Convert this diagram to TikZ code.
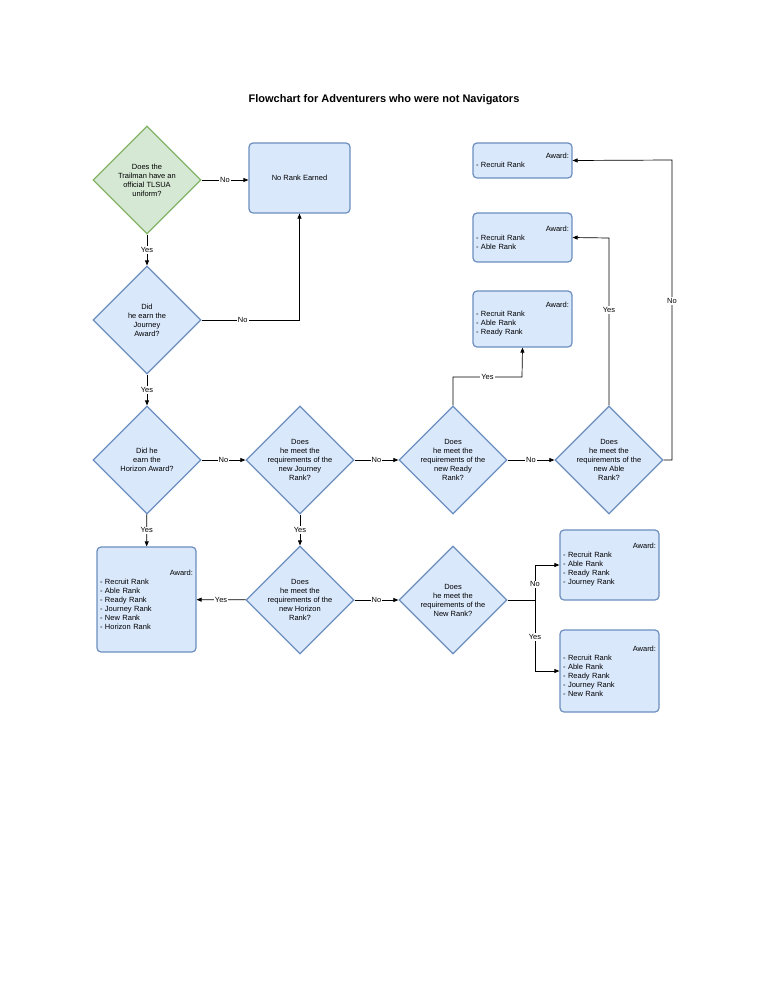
\documentclass[tikz,border=0pt]{standalone}
\usepackage{fontspec}
\setmainfont{Liberation Sans}
\usetikzlibrary{shapes.geometric,arrows.meta}
\definecolor{bfill}{HTML}{DAE8FC}\definecolor{bline}{HTML}{6C8EBF}
\definecolor{gfill}{HTML}{D5E8D4}\definecolor{gline}{HTML}{82B366}
\begin{document}
\begin{tikzpicture}[x=1pt,y=-1pt,font=\fontsize{7.5}{9}\selectfont,
 dia/.style={diamond,draw=bline,fill=bfill,line width=1.2pt,minimum width=108pt,minimum height=108pt,inner sep=0pt,align=center,aspect=1},
 gdia/.style={dia,draw=gline,fill=gfill},
 box/.style={draw=bline,fill=bfill,line width=1.2pt,rounded corners=4pt,minimum width=#1,inner sep=2pt},
 arr/.style={-{Triangle[length=5pt,width=4pt]},line width=0.7pt},
 lab/.style={fill=white,inner sep=1pt}]
\useasboundingbox (0,0) rectangle (768,994);
\node[font=\bfseries\fontsize{11}{13}\selectfont] (title) at (384,100) {Flowchart for Adventurers who were not Navigators};
\node[gdia] (d1) at (147,180) {Does the\\Trailman have an\\official TLSUA\\uniform?};
\node[box=101pt,minimum height=70pt] (nr) at (299.5,178) {No Rank Earned};
\node[dia] (d2) at (147,320) {Did\\he earn the\\Journey\\Award?};
\node[dia] (d3) at (147,460) {Did he\\earn the\\Horizon Award?};
\node[dia] (d4) at (300,460) {Does\\he meet the\\requirements of the\\new Journey\\Rank?};
\node[dia] (d5) at (453,460) {Does\\he meet the\\requirements of the\\new Ready\\Rank?};
\node[dia] (d6) at (609,460) {Does\\he meet the\\requirements of the\\new Able\\Rank?};
\node[dia] (d7) at (300,600) {Does\\he meet the\\requirements of the\\new Horizon\\Rank?};
\node[dia] (d8) at (453,600) {Does\\he meet the\\requirements of the\\New Rank?};
\node[box=99pt,minimum height=35pt,align=left,text width=93pt] (b1) at (522.5,160.5) {\hspace*{\fill}Award:\hspace*{\fill}\\- Recruit Rank};
\node[box=99pt,minimum height=49pt,align=left,text width=93pt] (b2) at (522.5,237.5) {\hspace*{\fill}Award:\hspace*{\fill}\\- Recruit Rank\\- Able Rank};
\node[box=99pt,minimum height=56pt,align=left,text width=93pt] (b3) at (522.5,319) {\hspace*{\fill}Award:\hspace*{\fill}\\- Recruit Rank\\- Able Rank\\- Ready Rank};
\node[box=99pt,minimum height=105pt,align=left,text width=93pt] (bb) at (146.5,599.5) {\hspace*{\fill}Award:\hspace*{\fill}\\- Recruit Rank\\- Able Rank\\- Ready Rank\\- Journey Rank\\- New Rank\\- Horizon Rank};
\node[box=99pt,minimum height=70pt,align=left,text width=93pt] (b4) at (609.5,565) {\hspace*{\fill}Award:\hspace*{\fill}\\- Recruit Rank\\- Able Rank\\- Ready Rank\\- Journey Rank};
\node[box=99pt,minimum height=82pt,align=left,text width=93pt] (b5) at (609.5,671) {\hspace*{\fill}Award:\hspace*{\fill}\\- Recruit Rank\\- Able Rank\\- Ready Rank\\- Journey Rank\\- New Rank};
\coordinate (j8) at (535,600);
\draw[arr] (d1.east) -- node[lab]{No} (nr.west|-d1.east);
\draw[arr] (d1) -- node[lab]{Yes} (d2);
\draw[arr] (d2.east) -- node[lab,pos=0.42]{No} (nr.south|-d2.east) -- (nr.south);
\draw[arr] (d2) -- node[lab]{Yes} (d3);
\draw[arr] (d3) -- node[lab]{No} (d4);
\draw[arr] (d4) -- node[lab]{No} (d5);
\draw[arr] (d5) -- node[lab]{No} (d6);
\draw[arr] (d3) -- node[lab]{Yes} (bb);
\draw[arr] (d4) -- node[lab]{Yes} (d7);
\draw[arr] (d7) -- node[lab]{Yes} (bb);
\draw[arr] (d7) -- node[lab]{No} (d8);
\draw[arr] (d8.east) -- (j8) -- node[lab,pos=0.45]{No} (j8|-b4.west) -- (b4.west);
\draw[arr] (d8.east) -- (j8) -- node[lab,pos=0.52]{Yes} (j8|-b5.west) -- (b5.west);
\draw[arr] (d5.north) -- (453,377) -- node[lab]{Yes} (522,377) -- (b3.south);
\draw[arr] (d6.north) -- node[lab,pos=0.57]{Yes} (609,238) -- (b2.east);
\draw[arr] (d6.east) -- (672,460) -- node[lab,pos=0.53]{No} (672,160) -- (b1.east);
\end{tikzpicture}
\end{document}
